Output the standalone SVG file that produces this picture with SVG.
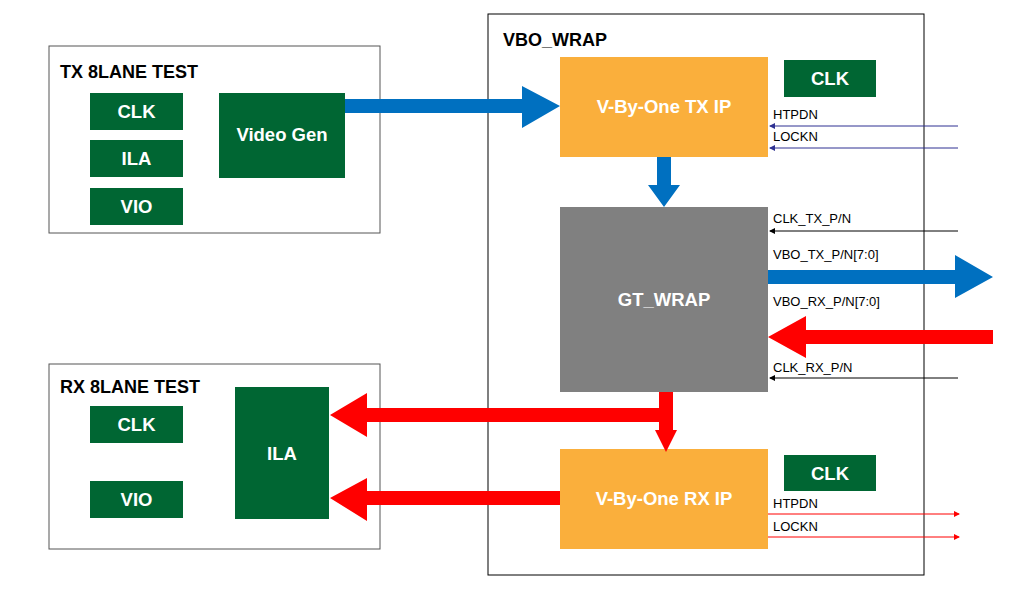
<svg xmlns="http://www.w3.org/2000/svg" width="1024" height="613" viewBox="0 0 1024 613">
<defs>
<style>
text{font-family:"Liberation Sans",Arial,sans-serif}
.box{fill:#fff;stroke:#555;stroke-width:1}
.g{fill:#006633}
.o{fill:#FAAF3C}
.wt{fill:#fff;font-weight:bold;font-size:18.5px;text-anchor:middle}
.tt{fill:#000;font-weight:bold;font-size:18px}
.lb{fill:#000;font-size:13px}
</style>
<marker id="an" markerWidth="6" markerHeight="6" refX="5" refY="3" orient="auto"><path d="M0,0L6,3L0,6z" fill="#2E3192"/></marker>
<marker id="ab" markerWidth="6" markerHeight="6" refX="5" refY="3" orient="auto"><path d="M0,0L6,3L0,6z" fill="#000"/></marker>
<marker id="ar" markerWidth="6" markerHeight="6" refX="5" refY="3" orient="auto"><path d="M0,0L6,3L0,6z" fill="#f00"/></marker>
</defs>
<rect width="1024" height="613" fill="#fff"/>
<g id="tx_test"><rect class="box" x="49" y="46" width="331" height="187"/><text class="tt" x="60" y="78">TX 8LANE TEST</text></g>
<g id="tx_clk"><rect class="g" x="90" y="93" width="93" height="37"/><text class="wt" x="136.5" y="118">CLK</text></g>
<g id="tx_ila"><rect class="g" x="90" y="140" width="93" height="37"/><text class="wt" x="136.5" y="165">ILA</text></g>
<g id="tx_vio"><rect class="g" x="90" y="188" width="93" height="37"/><text class="wt" x="136.5" y="213">VIO</text></g>
<g id="videogen"><rect class="g" x="219" y="93" width="126" height="85"/><text class="wt" x="282" y="141">Video Gen</text></g>
<g id="rx_test"><rect class="box" x="49" y="364" width="331" height="185"/><text class="tt" x="60" y="393">RX 8LANE TEST</text></g>
<g id="rx_clk"><rect class="g" x="90" y="406" width="93" height="37"/><text class="wt" x="136.5" y="431">CLK</text></g>
<g id="rx_vio"><rect class="g" x="90" y="481" width="93" height="37"/><text class="wt" x="136.5" y="506">VIO</text></g>
<g id="rx_ila"><rect class="g" x="235" y="387" width="94" height="132"/><text class="wt" x="282" y="460">ILA</text></g>
<g id="vbo_wrap"><rect fill="none" stroke="#000" stroke-width="1" x="488" y="14" width="436" height="561"/><text class="tt" x="503" y="46">VBO_WRAP</text></g>
<g id="tx_ip"><rect class="o" x="560" y="57" width="208" height="100"/><text class="wt" x="664" y="113">V-By-One TX IP</text></g>
<g id="tx_ipclk"><rect class="g" x="784" y="60" width="92" height="37"/><text class="wt" x="830" y="85">CLK</text></g>
<g id="gt_wrap"><rect fill="#808080" x="560" y="207" width="208" height="185"/><text class="wt" x="664" y="306">GT_WRAP</text></g>
<g id="rx_ip"><rect class="o" x="560" y="449" width="208" height="100"/><text class="wt" x="664" y="505">V-By-One RX IP</text></g>
<g id="rx_ipclk"><rect class="g" x="784" y="455" width="92" height="36"/><text class="wt" x="830" y="480">CLK</text></g>
<g id="connectors">
<path d="M345,99H522V86L560,106L522,128V113H345z" fill="#0070C0"/>
<path d="M657,157H671V185H680L664,207L648,185H657z" fill="#0070C0"/>
<path d="M768,270H955V255L993,277L955,298V284H768z" fill="#0070C0"/>
<path d="M993,330H806V316L768,337L806,358V344H993z" fill="#f00"/>
<path d="M673,392V430H677L666,452L655,430H659V422H367V437L330,415L367,393V408H659V392z" fill="#f00"/>
<path d="M560,491H367V478L330,498L367,521V505H560z" fill="#f00"/>
<line x1="958" y1="126" x2="770" y2="126" stroke="#2E3192" stroke-width="1" marker-end="url(#an)"/>
<line x1="958" y1="148" x2="770" y2="148" stroke="#2E3192" stroke-width="1" marker-end="url(#an)"/>
<line x1="958" y1="231" x2="770" y2="231" stroke="#000" stroke-width="1" marker-end="url(#ab)"/>
<line x1="958" y1="378" x2="770" y2="378" stroke="#000" stroke-width="1" marker-end="url(#ab)"/>
<line x1="768" y1="514" x2="959" y2="514" stroke="#f00" stroke-width="1" marker-end="url(#ar)"/>
<line x1="768" y1="537" x2="959" y2="537" stroke="#f00" stroke-width="1" marker-end="url(#ar)"/>
<text class="lb" x="773" y="119">HTPDN</text>
<text class="lb" x="773" y="141">LOCKN</text>
<text class="lb" x="773" y="223">CLK_TX_P/N</text>
<text class="lb" x="773" y="259">VBO_TX_P/N[7:0]</text>
<text class="lb" x="773" y="306">VBO_RX_P/N[7:0]</text>
<text class="lb" x="773" y="372">CLK_RX_P/N</text>
<text class="lb" x="773" y="508">HTPDN</text>
<text class="lb" x="773" y="531">LOCKN</text>
</g>
</svg>
